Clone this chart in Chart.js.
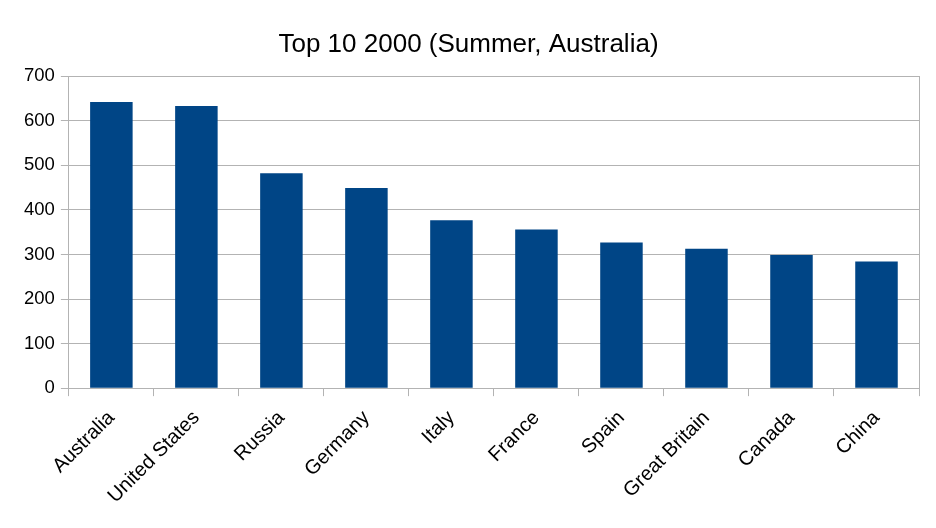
<!DOCTYPE html>
<html lang="en">
<head>
<meta charset="UTF-8">
<title>Top 10 2000 (Summer, Australia)</title>
<script src="https://cdn.jsdelivr.net/npm/chart.js"></script>
<style>
  html, body { margin: 0; padding: 0; background: #fff; }
  #wrap { width: 936px; height: 528px; }
</style>
</head>
<body>
<div id="wrap"><canvas id="chart"></canvas></div>
<script>
// Data
const countries = ['Australia', 'United States', 'Russia', 'Germany', 'Italy',
                   'France', 'Spain', 'Great Britain', 'Canada', 'China'];
const medals = [642, 633, 482, 449, 377, 356, 327, 313, 299, 284];
const yTicks = [0, 100, 200, 300, 400, 500, 600, 700];

const gridColor = '#b3b3b3';
Chart.defaults.font.family = '"Liberation Sans", Arial, sans-serif';
Chart.defaults.color = '#000';

new Chart(document.getElementById('chart'), {
  type: 'bar',
  data: {
    labels: countries,
    datasets: [{
      label: 'Top 10',
      data: medals,
      backgroundColor: '#004586',
      borderWidth: 0,
      barPercentage: 0.5,
      categoryPercentage: 1.0
    }]
  },
  options: {
    responsive: true,
    maintainAspectRatio: false,
    animation: false,
    layout: { padding: { left: 18, right: 17, top: 0, bottom: 10 } },
    plugins: {
      legend: { display: false },
      tooltip: { enabled: false },
      title: {
        display: true,
        text: 'Top 10 2000 (Summer, Australia)',
        color: '#000',
        font: { size: 26, weight: 'normal' },
        padding: { top: 29, bottom: 16 }
      }
    },
    scales: {
      x: {
        grid: {
          offset: true,
          drawOnChartArea: false,
          drawTicks: true,
          tickLength: 8,
          color: gridColor
        },
        border: { color: gridColor },
        ticks: {
          autoSkip: false,
          minRotation: 45,
          maxRotation: 45,
          padding: 10,
          font: { size: 20 }
        }
      },
      y: {
        min: 0,
        max: 700,
        afterBuildTicks: axis => { axis.ticks = yTicks.map(v => ({ value: v })); },
        grid: { color: gridColor, tickLength: 8 },
        border: { color: gridColor },
        ticks: { padding: 6, font: { size: 18.5 } }
      },
      y2: {
        position: 'right',
        min: 0,
        max: 700,
        grid: { drawOnChartArea: false, drawTicks: false },
        border: { color: gridColor },
        ticks: { display: false }
      }
    }
  }
});
</script>
</body>
</html>
